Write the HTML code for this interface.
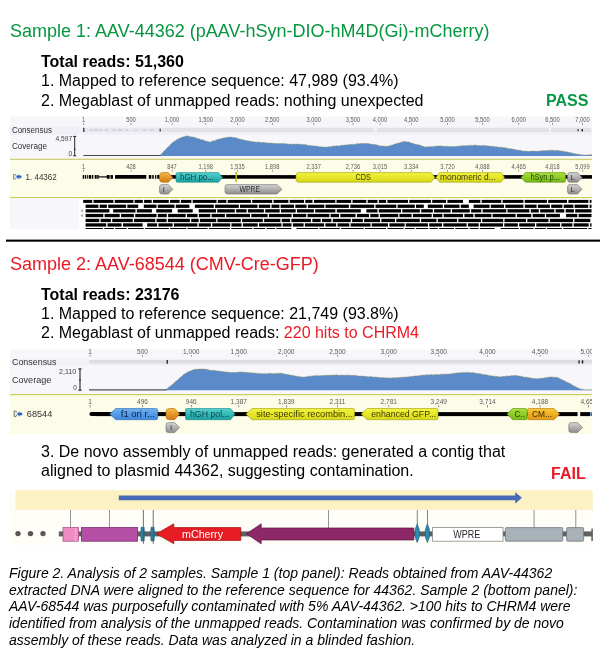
<!DOCTYPE html>
<html><head><meta charset="utf-8"><title>Figure 2</title>
<style>
html,body{margin:0;padding:0;background:#fff;}
body{width:612px;height:666px;position:relative;overflow:hidden;font-family:"Liberation Sans",sans-serif;color:#000;}
.t{position:absolute;white-space:nowrap;line-height:1;will-change:transform;}
.h1{font-size:18px;left:9.5px;}
.b{font-size:16px;left:41px;}
.cap{font-size:14px;font-style:italic;left:9.3px;}
svg{position:absolute;left:0;top:0;will-change:transform;}
svg text{font-family:"Liberation Sans",sans-serif;}
</style></head><body>

<div class="t h1" style="top:22.2px;color:#06963f;">Sample 1: AAV-44362 (pAAV-hSyn-DIO-hM4D(Gi)-mCherry)</div>
<div class="t b" style="top:54px;font-weight:bold;">Total reads: 51,360</div>
<div class="t b" style="top:73.4px;">1. Mapped to reference sequence: 47,989 (93.4%)</div>
<div class="t b" style="top:92.6px;">2. Megablast of unmapped reads: nothing unexpected</div>
<div class="t b" style="top:92.6px;left:546px;font-weight:bold;color:#0a9648;">PASS</div>
<div class="t h1" style="top:255px;color:#ea1a24;">Sample 2: AAV-68544 (CMV-Cre-GFP)</div>
<div class="t b" style="top:287px;font-weight:bold;">Total reads: 23176</div>
<div class="t b" style="top:305.6px;">1. Mapped to reference sequence: 21,749 (93.8%)</div>
<div class="t b" style="top:324.6px;">2. Megablast of unmapped reads: <span style="color:#ea1a24">220 hits to CHRM4</span></div>
<div class="t b" style="top:444px;">3. De novo assembly of unmapped reads: generated a contig that</div>
<div class="t b" style="top:463px;">aligned to plasmid 44362, suggesting contamination.</div>
<div class="t b" style="top:466px;left:551px;font-weight:bold;color:#ea1a24;">FAIL</div>
<div class="t cap" style="top:566.0px;">Figure 2. Analysis of 2 samples. Sample 1 (top panel): Reads obtained from AAV-44362</div>
<div class="t cap" style="top:582.7px;">extracted DNA were aligned to the reference sequence for 44362. Sample 2 (bottom panel):</div>
<div class="t cap" style="top:599.4px;">AAV-68544 was purposefully contaminated with 5% AAV-44362. &gt;100 hits to CHRM4 were</div>
<div class="t cap" style="top:616.1px;">identified from analysis of the unmapped reads. Contamination was confirmed by de novo</div>
<div class="t cap" style="top:632.8px;">assembly of these reads. Data was analyzed in a blinded fashion.</div>
<svg width="612" height="666" viewBox="0 0 612 666">
<defs>
<linearGradient id="gOr" x1="0" y1="0" x2="0" y2="1"><stop offset="0" stop-color="#f8b848"/><stop offset="1" stop-color="#d07810"/></linearGradient>
<linearGradient id="gTe" x1="0" y1="0" x2="0" y2="1"><stop offset="0" stop-color="#58d0d0"/><stop offset="1" stop-color="#18a0a0"/></linearGradient>
<linearGradient id="gYe" x1="0" y1="0" x2="0" y2="1"><stop offset="0" stop-color="#f4f440"/><stop offset="1" stop-color="#d8d818"/></linearGradient>
<linearGradient id="gGy" x1="0" y1="0" x2="0" y2="1"><stop offset="0" stop-color="#d4d4d4"/><stop offset="1" stop-color="#8c8c8c"/></linearGradient>
<linearGradient id="gGr" x1="0" y1="0" x2="0" y2="1"><stop offset="0" stop-color="#a8e038"/><stop offset="1" stop-color="#78b818"/></linearGradient>
<linearGradient id="gBl" x1="0" y1="0" x2="0" y2="1"><stop offset="0" stop-color="#70b0f0"/><stop offset="1" stop-color="#3c88d8"/></linearGradient>
<linearGradient id="gOy" x1="0" y1="0" x2="0" y2="1"><stop offset="0" stop-color="#f8c838"/><stop offset="1" stop-color="#e09810"/></linearGradient>
</defs>
<rect x="10" y="116.5" width="582" height="42" fill="#f6f6fb"/>
<rect x="10" y="126.5" width="582" height="8.5" fill="#f0f0f7"/>
<rect x="10" y="159.5" width="582" height="38" fill="#fdfce9"/>
<rect x="10" y="158.7" width="582" height="1.2" fill="#cbcd6c"/>
<rect x="10" y="197" width="582" height="1.2" fill="#c9cd62"/>
<rect x="10" y="198.2" width="69" height="30.5" fill="#f6f6fb"/>
<text x="83.5" y="122" font-size="6.5" fill="#5a5a5a" text-anchor="middle"  textLength="3.18" lengthAdjust="spacingAndGlyphs">1</text>
<rect x="83.2" y="123" width="0.7" height="1.8" fill="#666"/>
<text x="83.5" y="168.5" font-size="6.5" fill="#5a5a5a" text-anchor="middle"  textLength="3.18" lengthAdjust="spacingAndGlyphs">1</text>
<rect x="83.2" y="169.8" width="0.7" height="1.8" fill="#666"/>
<text x="131" y="122" font-size="6.5" fill="#5a5a5a" text-anchor="middle"  textLength="9.54" lengthAdjust="spacingAndGlyphs">500</text>
<rect x="130.7" y="123" width="0.7" height="1.8" fill="#666"/>
<text x="131" y="168.5" font-size="6.5" fill="#5a5a5a" text-anchor="middle"  textLength="9.54" lengthAdjust="spacingAndGlyphs">428</text>
<rect x="130.7" y="169.8" width="0.7" height="1.8" fill="#666"/>
<text x="172" y="122" font-size="6.5" fill="#5a5a5a" text-anchor="middle"  textLength="14.31" lengthAdjust="spacingAndGlyphs">1,000</text>
<rect x="171.7" y="123" width="0.7" height="1.8" fill="#666"/>
<text x="172" y="168.5" font-size="6.5" fill="#5a5a5a" text-anchor="middle"  textLength="9.54" lengthAdjust="spacingAndGlyphs">847</text>
<rect x="171.7" y="169.8" width="0.7" height="1.8" fill="#666"/>
<text x="205.75" y="122" font-size="6.5" fill="#5a5a5a" text-anchor="middle"  textLength="14.31" lengthAdjust="spacingAndGlyphs">1,500</text>
<rect x="205.45" y="123" width="0.7" height="1.8" fill="#666"/>
<text x="205.75" y="168.5" font-size="6.5" fill="#5a5a5a" text-anchor="middle"  textLength="14.31" lengthAdjust="spacingAndGlyphs">1,198</text>
<rect x="205.45" y="169.8" width="0.7" height="1.8" fill="#666"/>
<text x="237.5" y="122" font-size="6.5" fill="#5a5a5a" text-anchor="middle"  textLength="14.31" lengthAdjust="spacingAndGlyphs">2,000</text>
<rect x="237.2" y="123" width="0.7" height="1.8" fill="#666"/>
<text x="237.5" y="168.5" font-size="6.5" fill="#5a5a5a" text-anchor="middle"  textLength="14.31" lengthAdjust="spacingAndGlyphs">1,535</text>
<rect x="237.2" y="169.8" width="0.7" height="1.8" fill="#666"/>
<text x="272.25" y="122" font-size="6.5" fill="#5a5a5a" text-anchor="middle"  textLength="14.31" lengthAdjust="spacingAndGlyphs">2,500</text>
<rect x="271.95" y="123" width="0.7" height="1.8" fill="#666"/>
<text x="272.25" y="168.5" font-size="6.5" fill="#5a5a5a" text-anchor="middle"  textLength="14.31" lengthAdjust="spacingAndGlyphs">1,898</text>
<rect x="271.95" y="169.8" width="0.7" height="1.8" fill="#666"/>
<text x="313.75" y="122" font-size="6.5" fill="#5a5a5a" text-anchor="middle"  textLength="14.31" lengthAdjust="spacingAndGlyphs">3,000</text>
<rect x="313.45" y="123" width="0.7" height="1.8" fill="#666"/>
<text x="313.75" y="168.5" font-size="6.5" fill="#5a5a5a" text-anchor="middle"  textLength="14.31" lengthAdjust="spacingAndGlyphs">2,337</text>
<rect x="313.45" y="169.8" width="0.7" height="1.8" fill="#666"/>
<text x="353" y="122" font-size="6.5" fill="#5a5a5a" text-anchor="middle"  textLength="14.31" lengthAdjust="spacingAndGlyphs">3,500</text>
<rect x="352.7" y="123" width="0.7" height="1.8" fill="#666"/>
<text x="353" y="168.5" font-size="6.5" fill="#5a5a5a" text-anchor="middle"  textLength="14.31" lengthAdjust="spacingAndGlyphs">2,736</text>
<rect x="352.7" y="169.8" width="0.7" height="1.8" fill="#666"/>
<text x="380" y="122" font-size="6.5" fill="#5a5a5a" text-anchor="middle"  textLength="14.31" lengthAdjust="spacingAndGlyphs">4,000</text>
<rect x="379.7" y="123" width="0.7" height="1.8" fill="#666"/>
<text x="380" y="168.5" font-size="6.5" fill="#5a5a5a" text-anchor="middle"  textLength="14.31" lengthAdjust="spacingAndGlyphs">3,015</text>
<rect x="379.7" y="169.8" width="0.7" height="1.8" fill="#666"/>
<text x="411.25" y="122" font-size="6.5" fill="#5a5a5a" text-anchor="middle"  textLength="14.31" lengthAdjust="spacingAndGlyphs">4,500</text>
<rect x="410.95" y="123" width="0.7" height="1.8" fill="#666"/>
<text x="411.25" y="168.5" font-size="6.5" fill="#5a5a5a" text-anchor="middle"  textLength="14.31" lengthAdjust="spacingAndGlyphs">3,334</text>
<rect x="410.95" y="169.8" width="0.7" height="1.8" fill="#666"/>
<text x="447.5" y="122" font-size="6.5" fill="#5a5a5a" text-anchor="middle"  textLength="14.31" lengthAdjust="spacingAndGlyphs">5,000</text>
<rect x="447.2" y="123" width="0.7" height="1.8" fill="#666"/>
<text x="447.5" y="168.5" font-size="6.5" fill="#5a5a5a" text-anchor="middle"  textLength="14.31" lengthAdjust="spacingAndGlyphs">3,720</text>
<rect x="447.2" y="169.8" width="0.7" height="1.8" fill="#666"/>
<text x="482.5" y="122" font-size="6.5" fill="#5a5a5a" text-anchor="middle"  textLength="14.31" lengthAdjust="spacingAndGlyphs">5,500</text>
<rect x="482.2" y="123" width="0.7" height="1.8" fill="#666"/>
<text x="482.5" y="168.5" font-size="6.5" fill="#5a5a5a" text-anchor="middle"  textLength="14.31" lengthAdjust="spacingAndGlyphs">4,088</text>
<rect x="482.2" y="169.8" width="0.7" height="1.8" fill="#666"/>
<text x="518.75" y="122" font-size="6.5" fill="#5a5a5a" text-anchor="middle"  textLength="14.31" lengthAdjust="spacingAndGlyphs">6,000</text>
<rect x="518.45" y="123" width="0.7" height="1.8" fill="#666"/>
<text x="518.75" y="168.5" font-size="6.5" fill="#5a5a5a" text-anchor="middle"  textLength="14.31" lengthAdjust="spacingAndGlyphs">4,465</text>
<rect x="518.45" y="169.8" width="0.7" height="1.8" fill="#666"/>
<text x="552.5" y="122" font-size="6.5" fill="#5a5a5a" text-anchor="middle"  textLength="14.31" lengthAdjust="spacingAndGlyphs">6,500</text>
<rect x="552.2" y="123" width="0.7" height="1.8" fill="#666"/>
<text x="552.5" y="168.5" font-size="6.5" fill="#5a5a5a" text-anchor="middle"  textLength="14.31" lengthAdjust="spacingAndGlyphs">4,818</text>
<rect x="552.2" y="169.8" width="0.7" height="1.8" fill="#666"/>
<text x="582.5" y="122" font-size="6.5" fill="#5a5a5a" text-anchor="middle"  textLength="14.31" lengthAdjust="spacingAndGlyphs">7,000</text>
<rect x="582.2" y="123" width="0.7" height="1.8" fill="#666"/>
<text x="582.5" y="168.5" font-size="6.5" fill="#5a5a5a" text-anchor="middle"  textLength="14.31" lengthAdjust="spacingAndGlyphs">5,099</text>
<rect x="582.2" y="169.8" width="0.7" height="1.8" fill="#666"/>
<rect x="84" y="128" width="76" height="4" fill="#e6e6ee"/>
<rect x="162" y="128" width="212" height="4" fill="#e2e2e6" rx="1"/>
<rect x="377" y="128" width="172" height="4" fill="#e2e2e6" rx="1"/>
<rect x="551" y="128" width="40" height="4" fill="#e2e2e6" rx="1"/>
<rect x="83.2" y="127.8" width="1.2" height="4.2" fill="#222"/>
<rect x="159.6" y="128.6" width="1.2" height="3" fill="#333"/>
<rect x="577.6" y="129" width="1" height="2.4" fill="#222"/><rect x="581.6" y="129" width="1.4" height="2.4" fill="#222"/>
<rect x="90" y="129" width="3" height="2" fill="#d4d4dc"/>
<rect x="94" y="129" width="4" height="2" fill="#d4d4dc"/>
<rect x="99" y="129" width="3" height="2" fill="#d4d4dc"/>
<rect x="105" y="129" width="3" height="2" fill="#d4d4dc"/>
<rect x="112" y="129" width="4" height="2" fill="#d4d4dc"/>
<rect x="118" y="129" width="4" height="2" fill="#d4d4dc"/>
<rect x="126" y="129" width="2" height="2" fill="#d4d4dc"/>
<rect x="135" y="129" width="2" height="2" fill="#d4d4dc"/>
<rect x="143" y="129" width="4" height="2" fill="#d4d4dc"/>
<rect x="150" y="129" width="3" height="2" fill="#d4d4dc"/>
<text x="11.9" y="133.3" font-size="8.3" fill="#333" text-anchor="start"  textLength="40" lengthAdjust="spacingAndGlyphs">Consensus</text>
<text x="11.9" y="148.7" font-size="8.3" fill="#333" text-anchor="start"  textLength="35.2" lengthAdjust="spacingAndGlyphs">Coverage</text>
<text x="72.2" y="140.5" font-size="6.7" fill="#444" text-anchor="end" >4,597</text>
<text x="72.3" y="155.7" font-size="6.7" fill="#444" text-anchor="end" >0</text>
<path d="M73.2,136.4 H76.2 M74.7,136.4 V155.8 M73.2,155.8 H76.2 M74,149.3 H75.4" stroke="#111" stroke-width="0.9" fill="none"/>
<path d="M83.5,156 L83.5,155.4 L84.5,155.4 L85.5,155.4 L86.5,155.4 L87.5,155.4 L88.5,155.4 L89.5,155.4 L90.5,155.4 L91.5,155.4 L92.5,155.4 L93.5,155.4 L94.5,155.4 L95.5,155.4 L96.5,155.4 L97.5,155.4 L98.5,155.4 L99.5,155.4 L100.5,155.4 L101.5,155.4 L102.5,155.4 L103.5,155.4 L104.5,155.4 L105.5,155.4 L106.5,155.4 L107.5,155.4 L108.5,155.4 L109.5,155.4 L110.5,155.4 L111.5,155.4 L112.5,155.4 L113.5,155.4 L114.5,155.4 L115.5,155.4 L116.5,155.4 L117.5,155.4 L118.5,155.4 L119.5,155.4 L120.5,155.4 L121.5,155.4 L122.5,155.4 L123.5,155.4 L124.5,155.4 L125.5,155.4 L126.5,155.4 L127.5,155.4 L128.5,155.4 L129.5,155.4 L130.5,155.4 L131.5,155.4 L132.5,155.4 L133.5,155.4 L134.5,155.4 L135.5,155.4 L136.5,155.4 L137.5,155.4 L138.5,155.4 L139.5,155.4 L140.5,155.4 L141.5,155.4 L142.5,155.4 L143.5,155.4 L144.5,155.4 L145.5,155.4 L146.5,155.4 L147.5,155.4 L148.5,155.4 L149.5,155.4 L150.5,155.4 L151.5,155.4 L152.5,155.4 L153.5,155.4 L154.5,155.4 L155.5,155.4 L156.5,155.4 L157.5,155.4 L158.5,155.4 L159.5,155.4 L160.5,154.7 L161.5,154.03 L162.5,152.71 L163.5,151.65 L164.5,150.38 L165.5,149.65 L166.5,148.6 L167.5,147.27 L168.5,146.74 L169.5,145.73 L170.5,144.58 L171.5,143.56 L172.5,142.49 L173.5,141.75 L174.5,141.33 L175.5,140.42 L176.5,139.86 L177.5,139.31 L178.5,138.63 L179.5,138.27 L180.5,137.78 L181.5,137.61 L182.5,137.07 L183.5,136.76 L184.5,136.4 L185.5,136.28 L186.5,135.98 L187.5,135.69 L188.5,136.28 L189.5,136.5 L190.5,136.66 L191.5,136.83 L192.5,136.88 L193.5,137.09 L194.5,137.37 L195.5,137.54 L196.5,138.18 L197.5,138.3 L198.5,138.82 L199.5,138.89 L200.5,139.48 L201.5,139.72 L202.5,139.6 L203.5,140.02 L204.5,140.69 L205.5,140.8 L206.5,141.38 L207.5,141.37 L208.5,141.44 L209.5,141.95 L210.5,141.99 L211.5,141.43 L212.5,141.04 L213.5,140.87 L214.5,140.87 L215.5,140.44 L216.5,139.8 L217.5,139.54 L218.5,139.15 L219.5,138.83 L220.5,138.9 L221.5,138.29 L222.5,138.23 L223.5,137.97 L224.5,137.65 L225.5,137.72 L226.5,137.25 L227.5,137.38 L228.5,137.0 L229.5,137.02 L230.5,136.89 L231.5,137.0 L232.5,137.42 L233.5,137.41 L234.5,137.34 L235.5,137.9 L236.5,137.84 L237.5,138.21 L238.5,138.73 L239.5,138.92 L240.5,138.95 L241.5,139.69 L242.5,139.57 L243.5,139.83 L244.5,140.32 L245.5,140.33 L246.5,140.55 L247.5,140.67 L248.5,140.86 L249.5,141.23 L250.5,141.18 L251.5,141.49 L252.5,141.5 L253.5,141.66 L254.5,142.04 L255.5,141.93 L256.5,142.07 L257.5,142.28 L258.5,142.01 L259.5,142.06 L260.5,142.5 L261.5,142.53 L262.5,142.31 L263.5,142.34 L264.5,142.69 L265.5,142.86 L266.5,142.57 L267.5,143.03 L268.5,143.07 L269.5,143.01 L270.5,143.0 L271.5,142.92 L272.5,142.97 L273.5,143.51 L274.5,143.23 L275.5,143.51 L276.5,143.31 L277.5,143.61 L278.5,143.52 L279.5,143.39 L280.5,143.35 L281.5,143.64 L282.5,143.33 L283.5,143.43 L284.5,143.62 L285.5,143.83 L286.5,143.83 L287.5,143.78 L288.5,144.21 L289.5,143.97 L290.5,143.99 L291.5,144.23 L292.5,144.35 L293.5,144.11 L294.5,144.11 L295.5,144.16 L296.5,144.21 L297.5,143.94 L298.5,144.01 L299.5,144.22 L300.5,144.31 L301.5,144.29 L302.5,144.45 L303.5,144.54 L304.5,144.46 L305.5,144.55 L306.5,144.68 L307.5,145.27 L308.5,145.3 L309.5,145.58 L310.5,145.25 L311.5,145.7 L312.5,145.74 L313.5,145.97 L314.5,145.86 L315.5,146.3 L316.5,145.94 L317.5,146.27 L318.5,146.47 L319.5,146.65 L320.5,146.67 L321.5,146.75 L322.5,146.9 L323.5,147.06 L324.5,146.88 L325.5,147.04 L326.5,147.05 L327.5,146.94 L328.5,146.61 L329.5,146.7 L330.5,146.63 L331.5,146.39 L332.5,146.31 L333.5,146.09 L334.5,146.09 L335.5,146.0 L336.5,145.64 L337.5,145.82 L338.5,145.9 L339.5,145.74 L340.5,145.56 L341.5,145.29 L342.5,145.37 L343.5,145.19 L344.5,145.02 L345.5,145.12 L346.5,144.64 L347.5,144.88 L348.5,144.41 L349.5,144.6 L350.5,144.45 L351.5,144.23 L352.5,144.38 L353.5,144.19 L354.5,144.16 L355.5,144.23 L356.5,143.81 L357.5,143.6 L358.5,143.66 L359.5,143.76 L360.5,143.44 L361.5,143.33 L362.5,143.62 L363.5,143.41 L364.5,143.21 L365.5,143.46 L366.5,143.29 L367.5,143.58 L368.5,143.47 L369.5,143.71 L370.5,144.02 L371.5,144.22 L372.5,144.34 L373.5,144.23 L374.5,144.47 L375.5,144.52 L376.5,144.64 L377.5,145.03 L378.5,145.42 L379.5,145.64 L380.5,145.78 L381.5,146.12 L382.5,145.94 L383.5,145.98 L384.5,146.23 L385.5,146.24 L386.5,146.31 L387.5,146.31 L388.5,146.11 L389.5,145.75 L390.5,145.36 L391.5,145.32 L392.5,145.09 L393.5,144.53 L394.5,144.04 L395.5,143.72 L396.5,143.84 L397.5,143.12 L398.5,143.15 L399.5,142.79 L400.5,142.35 L401.5,142.3 L402.5,141.68 L403.5,141.57 L404.5,141.56 L405.5,141.35 L406.5,141.93 L407.5,141.81 L408.5,141.93 L409.5,142.12 L410.5,142.71 L411.5,142.92 L412.5,143.31 L413.5,143.61 L414.5,143.95 L415.5,144.3 L416.5,144.43 L417.5,144.45 L418.5,144.85 L419.5,145.01 L420.5,145.26 L421.5,145.82 L422.5,146.27 L423.5,146.34 L424.5,146.72 L425.5,146.89 L426.5,146.99 L427.5,146.83 L428.5,146.81 L429.5,146.81 L430.5,146.55 L431.5,146.68 L432.5,146.66 L433.5,146.16 L434.5,146.5 L435.5,146.3 L436.5,145.92 L437.5,146.0 L438.5,145.99 L439.5,146.05 L440.5,145.77 L441.5,145.94 L442.5,146.16 L443.5,146.19 L444.5,146.34 L445.5,146.17 L446.5,146.33 L447.5,146.18 L448.5,146.51 L449.5,146.62 L450.5,146.54 L451.5,146.52 L452.5,146.21 L453.5,146.5 L454.5,146.48 L455.5,146.42 L456.5,146.14 L457.5,146.21 L458.5,145.91 L459.5,146.15 L460.5,146.07 L461.5,145.75 L462.5,145.57 L463.5,145.7 L464.5,145.71 L465.5,145.77 L466.5,145.59 L467.5,145.31 L468.5,145.65 L469.5,145.24 L470.5,145.56 L471.5,145.2 L472.5,145.23 L473.5,145.41 L474.5,145.04 L475.5,145.04 L476.5,145.27 L477.5,145.41 L478.5,145.51 L479.5,145.47 L480.5,145.64 L481.5,145.46 L482.5,145.72 L483.5,145.33 L484.5,145.44 L485.5,145.66 L486.5,145.62 L487.5,145.93 L488.5,145.97 L489.5,146.0 L490.5,146.24 L491.5,146.19 L492.5,146.16 L493.5,146.31 L494.5,146.66 L495.5,146.8 L496.5,146.57 L497.5,147.01 L498.5,147.18 L499.5,147.08 L500.5,147.22 L501.5,147.15 L502.5,147.43 L503.5,147.53 L504.5,147.69 L505.5,147.55 L506.5,148.2 L507.5,148.16 L508.5,148.28 L509.5,148.66 L510.5,148.72 L511.5,148.87 L512.5,149.15 L513.5,149.01 L514.5,149.43 L515.5,149.54 L516.5,149.98 L517.5,150.14 L518.5,149.98 L519.5,150.25 L520.5,150.25 L521.5,150.57 L522.5,150.93 L523.5,151.15 L524.5,151.1 L525.5,151.11 L526.5,151.05 L527.5,151.26 L528.5,151.41 L529.5,151.01 L530.5,151.34 L531.5,150.96 L532.5,151.05 L533.5,151.06 L534.5,151.29 L535.5,151.11 L536.5,151.13 L537.5,151.22 L538.5,150.89 L539.5,151.13 L540.5,150.75 L541.5,150.87 L542.5,150.66 L543.5,150.56 L544.5,150.65 L545.5,150.54 L546.5,150.45 L547.5,150.41 L548.5,150.41 L549.5,150.17 L550.5,150.14 L551.5,150.29 L552.5,150.29 L553.5,150.26 L554.5,150.46 L555.5,150.37 L556.5,150.53 L557.5,150.25 L558.5,150.6 L559.5,150.79 L560.5,150.99 L561.5,150.86 L562.5,151.01 L563.5,151.48 L564.5,151.28 L565.5,151.86 L566.5,152.02 L567.5,151.87 L568.5,152.14 L569.5,152.6 L570.5,152.59 L571.5,152.73 L572.5,153.32 L573.5,153.33 L574.5,153.73 L575.5,153.59 L576.5,153.89 L577.5,154.19 L578.5,154.02 L579.5,154.27 L580.5,154.64 L581.5,154.86 L582.5,154.98 L583.5,154.85 L584.5,154.95 L585.5,154.99 L586.5,154.96 L587.5,154.93 L588.5,154.9 L589.5,154.87 L590.5,154.84 L591.5,154.81 L592,154.8 L592,156 Z" fill="#5a8aca"/>
<path d="M83.5,155.4 L84.5,155.4 L85.5,155.4 L86.5,155.4 L87.5,155.4 L88.5,155.4 L89.5,155.4 L90.5,155.4 L91.5,155.4 L92.5,155.4 L93.5,155.4 L94.5,155.4 L95.5,155.4 L96.5,155.4 L97.5,155.4 L98.5,155.4 L99.5,155.4 L100.5,155.4 L101.5,155.4 L102.5,155.4 L103.5,155.4 L104.5,155.4 L105.5,155.4 L106.5,155.4 L107.5,155.4 L108.5,155.4 L109.5,155.4 L110.5,155.4 L111.5,155.4 L112.5,155.4 L113.5,155.4 L114.5,155.4 L115.5,155.4 L116.5,155.4 L117.5,155.4 L118.5,155.4 L119.5,155.4 L120.5,155.4 L121.5,155.4 L122.5,155.4 L123.5,155.4 L124.5,155.4 L125.5,155.4 L126.5,155.4 L127.5,155.4 L128.5,155.4 L129.5,155.4 L130.5,155.4 L131.5,155.4 L132.5,155.4 L133.5,155.4 L134.5,155.4 L135.5,155.4 L136.5,155.4 L137.5,155.4 L138.5,155.4 L139.5,155.4 L140.5,155.4 L141.5,155.4 L142.5,155.4 L143.5,155.4 L144.5,155.4 L145.5,155.4 L146.5,155.4 L147.5,155.4 L148.5,155.4 L149.5,155.4 L150.5,155.4 L151.5,155.4 L152.5,155.4 L153.5,155.4 L154.5,155.4 L155.5,155.4 L156.5,155.4 L157.5,155.4 L158.5,155.4 L159.5,155.4 L160.5,154.7 L161.5,154.03 L162.5,152.71 L163.5,151.65 L164.5,150.38 L165.5,149.65 L166.5,148.6 L167.5,147.27 L168.5,146.74 L169.5,145.73 L170.5,144.58 L171.5,143.56 L172.5,142.49 L173.5,141.75 L174.5,141.33 L175.5,140.42 L176.5,139.86 L177.5,139.31 L178.5,138.63 L179.5,138.27 L180.5,137.78 L181.5,137.61 L182.5,137.07 L183.5,136.76 L184.5,136.4 L185.5,136.28 L186.5,135.98 L187.5,135.69 L188.5,136.28 L189.5,136.5 L190.5,136.66 L191.5,136.83 L192.5,136.88 L193.5,137.09 L194.5,137.37 L195.5,137.54 L196.5,138.18 L197.5,138.3 L198.5,138.82 L199.5,138.89 L200.5,139.48 L201.5,139.72 L202.5,139.6 L203.5,140.02 L204.5,140.69 L205.5,140.8 L206.5,141.38 L207.5,141.37 L208.5,141.44 L209.5,141.95 L210.5,141.99 L211.5,141.43 L212.5,141.04 L213.5,140.87 L214.5,140.87 L215.5,140.44 L216.5,139.8 L217.5,139.54 L218.5,139.15 L219.5,138.83 L220.5,138.9 L221.5,138.29 L222.5,138.23 L223.5,137.97 L224.5,137.65 L225.5,137.72 L226.5,137.25 L227.5,137.38 L228.5,137.0 L229.5,137.02 L230.5,136.89 L231.5,137.0 L232.5,137.42 L233.5,137.41 L234.5,137.34 L235.5,137.9 L236.5,137.84 L237.5,138.21 L238.5,138.73 L239.5,138.92 L240.5,138.95 L241.5,139.69 L242.5,139.57 L243.5,139.83 L244.5,140.32 L245.5,140.33 L246.5,140.55 L247.5,140.67 L248.5,140.86 L249.5,141.23 L250.5,141.18 L251.5,141.49 L252.5,141.5 L253.5,141.66 L254.5,142.04 L255.5,141.93 L256.5,142.07 L257.5,142.28 L258.5,142.01 L259.5,142.06 L260.5,142.5 L261.5,142.53 L262.5,142.31 L263.5,142.34 L264.5,142.69 L265.5,142.86 L266.5,142.57 L267.5,143.03 L268.5,143.07 L269.5,143.01 L270.5,143.0 L271.5,142.92 L272.5,142.97 L273.5,143.51 L274.5,143.23 L275.5,143.51 L276.5,143.31 L277.5,143.61 L278.5,143.52 L279.5,143.39 L280.5,143.35 L281.5,143.64 L282.5,143.33 L283.5,143.43 L284.5,143.62 L285.5,143.83 L286.5,143.83 L287.5,143.78 L288.5,144.21 L289.5,143.97 L290.5,143.99 L291.5,144.23 L292.5,144.35 L293.5,144.11 L294.5,144.11 L295.5,144.16 L296.5,144.21 L297.5,143.94 L298.5,144.01 L299.5,144.22 L300.5,144.31 L301.5,144.29 L302.5,144.45 L303.5,144.54 L304.5,144.46 L305.5,144.55 L306.5,144.68 L307.5,145.27 L308.5,145.3 L309.5,145.58 L310.5,145.25 L311.5,145.7 L312.5,145.74 L313.5,145.97 L314.5,145.86 L315.5,146.3 L316.5,145.94 L317.5,146.27 L318.5,146.47 L319.5,146.65 L320.5,146.67 L321.5,146.75 L322.5,146.9 L323.5,147.06 L324.5,146.88 L325.5,147.04 L326.5,147.05 L327.5,146.94 L328.5,146.61 L329.5,146.7 L330.5,146.63 L331.5,146.39 L332.5,146.31 L333.5,146.09 L334.5,146.09 L335.5,146.0 L336.5,145.64 L337.5,145.82 L338.5,145.9 L339.5,145.74 L340.5,145.56 L341.5,145.29 L342.5,145.37 L343.5,145.19 L344.5,145.02 L345.5,145.12 L346.5,144.64 L347.5,144.88 L348.5,144.41 L349.5,144.6 L350.5,144.45 L351.5,144.23 L352.5,144.38 L353.5,144.19 L354.5,144.16 L355.5,144.23 L356.5,143.81 L357.5,143.6 L358.5,143.66 L359.5,143.76 L360.5,143.44 L361.5,143.33 L362.5,143.62 L363.5,143.41 L364.5,143.21 L365.5,143.46 L366.5,143.29 L367.5,143.58 L368.5,143.47 L369.5,143.71 L370.5,144.02 L371.5,144.22 L372.5,144.34 L373.5,144.23 L374.5,144.47 L375.5,144.52 L376.5,144.64 L377.5,145.03 L378.5,145.42 L379.5,145.64 L380.5,145.78 L381.5,146.12 L382.5,145.94 L383.5,145.98 L384.5,146.23 L385.5,146.24 L386.5,146.31 L387.5,146.31 L388.5,146.11 L389.5,145.75 L390.5,145.36 L391.5,145.32 L392.5,145.09 L393.5,144.53 L394.5,144.04 L395.5,143.72 L396.5,143.84 L397.5,143.12 L398.5,143.15 L399.5,142.79 L400.5,142.35 L401.5,142.3 L402.5,141.68 L403.5,141.57 L404.5,141.56 L405.5,141.35 L406.5,141.93 L407.5,141.81 L408.5,141.93 L409.5,142.12 L410.5,142.71 L411.5,142.92 L412.5,143.31 L413.5,143.61 L414.5,143.95 L415.5,144.3 L416.5,144.43 L417.5,144.45 L418.5,144.85 L419.5,145.01 L420.5,145.26 L421.5,145.82 L422.5,146.27 L423.5,146.34 L424.5,146.72 L425.5,146.89 L426.5,146.99 L427.5,146.83 L428.5,146.81 L429.5,146.81 L430.5,146.55 L431.5,146.68 L432.5,146.66 L433.5,146.16 L434.5,146.5 L435.5,146.3 L436.5,145.92 L437.5,146.0 L438.5,145.99 L439.5,146.05 L440.5,145.77 L441.5,145.94 L442.5,146.16 L443.5,146.19 L444.5,146.34 L445.5,146.17 L446.5,146.33 L447.5,146.18 L448.5,146.51 L449.5,146.62 L450.5,146.54 L451.5,146.52 L452.5,146.21 L453.5,146.5 L454.5,146.48 L455.5,146.42 L456.5,146.14 L457.5,146.21 L458.5,145.91 L459.5,146.15 L460.5,146.07 L461.5,145.75 L462.5,145.57 L463.5,145.7 L464.5,145.71 L465.5,145.77 L466.5,145.59 L467.5,145.31 L468.5,145.65 L469.5,145.24 L470.5,145.56 L471.5,145.2 L472.5,145.23 L473.5,145.41 L474.5,145.04 L475.5,145.04 L476.5,145.27 L477.5,145.41 L478.5,145.51 L479.5,145.47 L480.5,145.64 L481.5,145.46 L482.5,145.72 L483.5,145.33 L484.5,145.44 L485.5,145.66 L486.5,145.62 L487.5,145.93 L488.5,145.97 L489.5,146.0 L490.5,146.24 L491.5,146.19 L492.5,146.16 L493.5,146.31 L494.5,146.66 L495.5,146.8 L496.5,146.57 L497.5,147.01 L498.5,147.18 L499.5,147.08 L500.5,147.22 L501.5,147.15 L502.5,147.43 L503.5,147.53 L504.5,147.69 L505.5,147.55 L506.5,148.2 L507.5,148.16 L508.5,148.28 L509.5,148.66 L510.5,148.72 L511.5,148.87 L512.5,149.15 L513.5,149.01 L514.5,149.43 L515.5,149.54 L516.5,149.98 L517.5,150.14 L518.5,149.98 L519.5,150.25 L520.5,150.25 L521.5,150.57 L522.5,150.93 L523.5,151.15 L524.5,151.1 L525.5,151.11 L526.5,151.05 L527.5,151.26 L528.5,151.41 L529.5,151.01 L530.5,151.34 L531.5,150.96 L532.5,151.05 L533.5,151.06 L534.5,151.29 L535.5,151.11 L536.5,151.13 L537.5,151.22 L538.5,150.89 L539.5,151.13 L540.5,150.75 L541.5,150.87 L542.5,150.66 L543.5,150.56 L544.5,150.65 L545.5,150.54 L546.5,150.45 L547.5,150.41 L548.5,150.41 L549.5,150.17 L550.5,150.14 L551.5,150.29 L552.5,150.29 L553.5,150.26 L554.5,150.46 L555.5,150.37 L556.5,150.53 L557.5,150.25 L558.5,150.6 L559.5,150.79 L560.5,150.99 L561.5,150.86 L562.5,151.01 L563.5,151.48 L564.5,151.28 L565.5,151.86 L566.5,152.02 L567.5,151.87 L568.5,152.14 L569.5,152.6 L570.5,152.59 L571.5,152.73 L572.5,153.32 L573.5,153.33 L574.5,153.73 L575.5,153.59 L576.5,153.89 L577.5,154.19 L578.5,154.02 L579.5,154.27 L580.5,154.64 L581.5,154.86 L582.5,154.98 L583.5,154.85 L584.5,154.95 L585.5,154.99 L586.5,154.96 L587.5,154.93 L588.5,154.9 L589.5,154.87 L590.5,154.84 L591.5,154.81 L592,154.8" fill="none" stroke="#a89a48" stroke-width="0.5" opacity="0.8"/>
<rect x="83.5" y="155.2" width="77" height="0.8" fill="#333"/>
<rect x="160" y="175.1" width="432" height="3.6" fill="#000"/>
<rect x="82.7" y="175.1" width="1.6" height="3.6" fill="#000" rx="0.5"/>
<rect x="85" y="175.1" width="1.3" height="3.6" fill="#000" rx="0.5"/>
<rect x="87.2" y="175.1" width="1.1" height="3.6" fill="#000" rx="0.5"/>
<rect x="89" y="175.1" width="2" height="3.6" fill="#000" rx="0.5"/>
<rect x="91.7" y="175.1" width="1.6" height="3.6" fill="#000" rx="0.5"/>
<rect x="94.7" y="175.1" width="2" height="3.6" fill="#000" rx="0.5"/>
<rect x="97.2" y="175.1" width="1.6" height="3.6" fill="#000" rx="0.5"/>
<rect x="106.7" y="175.1" width="3" height="3.6" fill="#000" rx="0.5"/>
<rect x="110.5" y="175.1" width="2.5" height="3.6" fill="#000" rx="0.5"/>
<rect x="115" y="175.1" width="31.3" height="3.6" fill="#000" rx="0.5"/>
<rect x="148.8" y="175.1" width="2.5" height="3.6" fill="#000" rx="0.5"/>
<rect x="152.2" y="175.1" width="1.6" height="3.6" fill="#000" rx="0.5"/>
<rect x="155" y="175.1" width="1.3" height="3.6" fill="#000" rx="0.5"/>
<rect x="157.2" y="175.1" width="2.6" height="3.6" fill="#000" rx="0.5"/>
<rect x="99" y="176.3" width="7.8" height="1.2" fill="#000"/>
<path d="M162.5,172.6 L168.3,172.6 L172.8,177.39999999999998 L168.3,182.2 L162.5,182.2 Q159.5,182.2 159.5,179.2 L159.5,175.6 Q159.5,172.6 162.5,172.6 Z" fill="url(#gOr)" stroke="#b06808" stroke-width="0.6" stroke-linejoin="round"/>
<path d="M177.5,172.6 L218.5,172.6 L222.5,177.39999999999998 L218.5,182.2 L177.5,182.2 Q176,182.2 176,180.7 L176,174.1 Q176,172.6 177.5,172.6 Z" fill="url(#gTe)" stroke="#108888" stroke-width="0.6" stroke-linejoin="round"/>
<text x="196.9" y="180.3" font-size="8.2" fill="#0a4848" text-anchor="middle"  textLength="33.8" lengthAdjust="spacingAndGlyphs">hGH po...</text>
<rect x="235.6" y="172.2" width="1.3" height="9.6" fill="#d8d820" stroke="#909010" stroke-width="0.3"/>
<path d="M299,172.6 L431,172.6 L435,177.39999999999998 L431,182.2 L299,182.2 Q296,182.2 296,179.2 L296,175.6 Q296,172.6 299,172.6 Z" fill="url(#gYe)" stroke="#a0a010" stroke-width="0.6" stroke-linejoin="round"/>
<text x="363.1" y="180.4" font-size="8.2" fill="#3a3a00" text-anchor="middle"  textLength="15.3" lengthAdjust="spacingAndGlyphs">CDS</text>
<path d="M439.5,172.6 L501.0,172.6 L504.5,177.39999999999998 L501.0,182.2 L439.5,182.2 L436,177.39999999999998 Z" fill="url(#gYe)" stroke="#a0a010" stroke-width="0.6" stroke-linejoin="round"/>
<text x="467.9" y="180.3" font-size="8.2" fill="#3a3a00" text-anchor="middle"  textLength="55.8" lengthAdjust="spacingAndGlyphs">monomeric d...</text>
<path d="M564.0,172.6 L525.5,172.6 L521,177.39999999999998 L525.5,182.2 L564.0,182.2 Q565.5,182.2 565.5,180.7 L565.5,174.1 Q565.5,172.6 564.0,172.6 Z" fill="url(#gGr)" stroke="#5c9010" stroke-width="0.6" stroke-linejoin="round"/>
<text x="545.2" y="180.3" font-size="8.2" fill="#1c4800" text-anchor="middle"  textLength="29.5" lengthAdjust="spacingAndGlyphs">hSyn p...</text>
<path d="M570.0,172.6 L577.5,172.6 L582,177.39999999999998 L577.5,182.2 L570.0,182.2 Q567.5,182.2 567.5,179.7 L567.5,175.1 Q567.5,172.6 570.0,172.6 Z" fill="url(#gGy)" stroke="#707070" stroke-width="0.6" stroke-linejoin="round"/>
<text x="572.6" y="180.2" font-size="7.6" fill="#333" text-anchor="middle" >L</text>
<path d="M570.0,184.6 L577.5,184.6 L582,189.3 L577.5,194 L570.0,194 Q567.5,194 567.5,191.5 L567.5,187.1 Q567.5,184.6 570.0,184.6 Z" fill="url(#gGy)" stroke="#707070" stroke-width="0.6" stroke-linejoin="round"/>
<text x="572.6" y="192.1" font-size="7.6" fill="#333" text-anchor="middle" >L</text>
<path d="M162.0,184.6 L168.3,184.6 L172.8,189.3 L168.3,194 L162.0,194 Q159.5,194 159.5,191.5 L159.5,187.1 Q159.5,184.6 162.0,184.6 Z" fill="url(#gGy)" stroke="#707070" stroke-width="0.6" stroke-linejoin="round"/>
<text x="163.9" y="192" font-size="7.6" fill="#333" text-anchor="middle" >I</text>
<path d="M227.5,184.6 L277,184.6 L282,189.3 L277,194 L227.5,194 Q225,194 225,191.5 L225,187.1 Q225,184.6 227.5,184.6 Z" fill="url(#gGy)" stroke="#707070" stroke-width="0.6" stroke-linejoin="round"/>
<text x="249.8" y="192.3" font-size="8.2" fill="#333" text-anchor="middle"  textLength="20.6" lengthAdjust="spacingAndGlyphs">WPRE</text>
<path d="M16.2,175.8 Q16.2,174.5 14.9,174.5 H13.5 V179.1 H14.9 Q16.2,179.1 16.2,177.8" fill="#e4e4e4" stroke="#777" stroke-width="0.8"/>
<path d="M16.2,176.8 L18.7,174.8 V175.8 H21.2 V177.8 H18.7 V178.8 Z" fill="#2c66d0" stroke="#2c66d0" stroke-width="0.5" stroke-linejoin="round"/>
<text x="25.6" y="180" font-size="8.2" fill="#333" text-anchor="start"  textLength="31.1" lengthAdjust="spacingAndGlyphs">1. 44362</text>
<rect x="83.2" y="199.9" width="9.0" height="3.0" fill="#000"/>
<rect x="93.5" y="199.9" width="19.9" height="3.0" fill="#000"/>
<rect x="114.7" y="199.9" width="18.7" height="3.0" fill="#000"/>
<rect x="134.6" y="199.9" width="8.2" height="3.0" fill="#000"/>
<rect x="144.1" y="199.9" width="7.6" height="3.0" fill="#000"/>
<rect x="153.0" y="199.9" width="15.8" height="3.0" fill="#000"/>
<rect x="170.1" y="199.9" width="9.5" height="3.0" fill="#000"/>
<rect x="180.9" y="199.9" width="10.5" height="3.0" fill="#000"/>
<rect x="192.7" y="199.9" width="23.8" height="3.0" fill="#000"/>
<rect x="217.8" y="199.9" width="8.6" height="3.0" fill="#000"/>
<rect x="227.7" y="199.9" width="23.2" height="3.0" fill="#000"/>
<rect x="252.2" y="199.9" width="20.0" height="3.0" fill="#000"/>
<rect x="273.5" y="199.9" width="14.9" height="3.0" fill="#000"/>
<rect x="289.7" y="199.9" width="14.3" height="3.0" fill="#000"/>
<rect x="305.3" y="199.9" width="7.2" height="3.0" fill="#000"/>
<rect x="313.9" y="199.9" width="21.4" height="3.0" fill="#000"/>
<rect x="336.5" y="199.9" width="14.7" height="3.0" fill="#000"/>
<rect x="352.5" y="199.9" width="13.9" height="3.0" fill="#000"/>
<rect x="367.7" y="199.9" width="9.8" height="3.0" fill="#000"/>
<rect x="378.8" y="199.9" width="7.3" height="3.0" fill="#000"/>
<rect x="387.4" y="199.9" width="20.6" height="3.0" fill="#000"/>
<rect x="409.3" y="199.9" width="21.6" height="3.0" fill="#000"/>
<rect x="432.2" y="199.9" width="13.9" height="3.0" fill="#000"/>
<rect x="447.4" y="199.9" width="15.6" height="3.0" fill="#000"/>
<rect x="468.9" y="199.9" width="11.4" height="3.0" fill="#000"/>
<rect x="481.6" y="199.9" width="19.7" height="3.0" fill="#000"/>
<rect x="502.6" y="199.9" width="20.8" height="3.0" fill="#000"/>
<rect x="524.7" y="199.9" width="22.2" height="3.0" fill="#000"/>
<rect x="548.2" y="199.9" width="18.8" height="3.0" fill="#000"/>
<rect x="568.4" y="199.9" width="20.0" height="3.0" fill="#000"/>
<rect x="589.7" y="199.9" width="1.8" height="3.0" fill="#000"/>
<rect x="85.6" y="204.6" width="12.8" height="3.3" fill="#000"/>
<rect x="99.7" y="204.6" width="7.2" height="3.3" fill="#000"/>
<rect x="108.2" y="204.6" width="17.9" height="3.3" fill="#000"/>
<rect x="127.3" y="204.6" width="10.9" height="3.3" fill="#000"/>
<rect x="143.8" y="204.6" width="12.7" height="3.3" fill="#000"/>
<rect x="157.8" y="204.6" width="16.7" height="3.3" fill="#000"/>
<rect x="175.8" y="204.6" width="13.6" height="3.3" fill="#000"/>
<rect x="194.9" y="204.6" width="18.9" height="3.3" fill="#000"/>
<rect x="215.1" y="204.6" width="23.7" height="3.3" fill="#000"/>
<rect x="240.0" y="204.6" width="17.5" height="3.3" fill="#000"/>
<rect x="258.8" y="204.6" width="11.4" height="3.3" fill="#000"/>
<rect x="271.5" y="204.6" width="7.9" height="3.3" fill="#000"/>
<rect x="280.6" y="204.6" width="13.4" height="3.3" fill="#000"/>
<rect x="295.3" y="204.6" width="11.3" height="3.3" fill="#000"/>
<rect x="307.9" y="204.6" width="16.4" height="3.3" fill="#000"/>
<rect x="325.5" y="204.6" width="23.4" height="3.3" fill="#000"/>
<rect x="350.3" y="204.6" width="23.9" height="3.3" fill="#000"/>
<rect x="375.5" y="204.6" width="20.8" height="3.3" fill="#000"/>
<rect x="397.6" y="204.6" width="17.2" height="3.3" fill="#000"/>
<rect x="416.0" y="204.6" width="7.8" height="3.3" fill="#000"/>
<rect x="427.8" y="204.6" width="15.0" height="3.3" fill="#000"/>
<rect x="444.1" y="204.6" width="15.4" height="3.3" fill="#000"/>
<rect x="460.8" y="204.6" width="8.0" height="3.3" fill="#000"/>
<rect x="473.6" y="204.6" width="16.0" height="3.3" fill="#000"/>
<rect x="490.8" y="204.6" width="13.2" height="3.3" fill="#000"/>
<rect x="505.3" y="204.6" width="18.1" height="3.3" fill="#000"/>
<rect x="524.8" y="204.6" width="11.8" height="3.3" fill="#000"/>
<rect x="537.9" y="204.6" width="12.0" height="3.3" fill="#000"/>
<rect x="551.2" y="204.6" width="11.2" height="3.3" fill="#000"/>
<rect x="563.7" y="204.6" width="9.7" height="3.3" fill="#000"/>
<rect x="574.6" y="204.6" width="13.6" height="3.3" fill="#000"/>
<rect x="589.6" y="204.6" width="1.9" height="3.3" fill="#000"/>
<rect x="85.6" y="209.2" width="23.8" height="3.3" fill="#000"/>
<rect x="113.1" y="209.2" width="22.4" height="3.3" fill="#000"/>
<rect x="136.8" y="209.2" width="15.1" height="3.3" fill="#000"/>
<rect x="156.2" y="209.2" width="15.9" height="3.3" fill="#000"/>
<rect x="177.7" y="209.2" width="15.0" height="3.3" fill="#000"/>
<rect x="198.7" y="209.2" width="17.3" height="3.3" fill="#000"/>
<rect x="217.2" y="209.2" width="17.6" height="3.3" fill="#000"/>
<rect x="236.1" y="209.2" width="10.5" height="3.3" fill="#000"/>
<rect x="247.9" y="209.2" width="16.0" height="3.3" fill="#000"/>
<rect x="265.2" y="209.2" width="14.5" height="3.3" fill="#000"/>
<rect x="281.0" y="209.2" width="14.7" height="3.3" fill="#000"/>
<rect x="297.0" y="209.2" width="16.9" height="3.3" fill="#000"/>
<rect x="315.2" y="209.2" width="20.2" height="3.3" fill="#000"/>
<rect x="336.8" y="209.2" width="24.0" height="3.3" fill="#000"/>
<rect x="366.4" y="209.2" width="11.1" height="3.3" fill="#000"/>
<rect x="378.8" y="209.2" width="22.2" height="3.3" fill="#000"/>
<rect x="402.3" y="209.2" width="17.6" height="3.3" fill="#000"/>
<rect x="421.2" y="209.2" width="11.6" height="3.3" fill="#000"/>
<rect x="434.1" y="209.2" width="16.6" height="3.3" fill="#000"/>
<rect x="452.0" y="209.2" width="17.8" height="3.3" fill="#000"/>
<rect x="471.1" y="209.2" width="10.2" height="3.3" fill="#000"/>
<rect x="482.6" y="209.2" width="23.7" height="3.3" fill="#000"/>
<rect x="507.5" y="209.2" width="21.9" height="3.3" fill="#000"/>
<rect x="530.8" y="209.2" width="8.0" height="3.3" fill="#000"/>
<rect x="540.1" y="209.2" width="14.2" height="3.3" fill="#000"/>
<rect x="555.6" y="209.2" width="8.7" height="3.3" fill="#000"/>
<rect x="565.7" y="209.2" width="8.2" height="3.3" fill="#000"/>
<rect x="575.2" y="209.2" width="16.3" height="3.3" fill="#000"/>
<rect x="85.6" y="213.9" width="17.7" height="3.3" fill="#000"/>
<rect x="104.6" y="213.9" width="15.1" height="3.3" fill="#000"/>
<rect x="121.1" y="213.9" width="12.8" height="3.3" fill="#000"/>
<rect x="135.2" y="213.9" width="21.3" height="3.3" fill="#000"/>
<rect x="157.8" y="213.9" width="9.0" height="3.3" fill="#000"/>
<rect x="168.1" y="213.9" width="17.6" height="3.3" fill="#000"/>
<rect x="187.0" y="213.9" width="10.6" height="3.3" fill="#000"/>
<rect x="198.9" y="213.9" width="11.4" height="3.3" fill="#000"/>
<rect x="211.6" y="213.9" width="13.3" height="3.3" fill="#000"/>
<rect x="226.2" y="213.9" width="23.8" height="3.3" fill="#000"/>
<rect x="251.3" y="213.9" width="16.3" height="3.3" fill="#000"/>
<rect x="268.9" y="213.9" width="22.7" height="3.3" fill="#000"/>
<rect x="292.9" y="213.9" width="13.3" height="3.3" fill="#000"/>
<rect x="307.5" y="213.9" width="21.9" height="3.3" fill="#000"/>
<rect x="330.6" y="213.9" width="8.4" height="3.3" fill="#000"/>
<rect x="340.3" y="213.9" width="15.2" height="3.3" fill="#000"/>
<rect x="356.9" y="213.9" width="12.1" height="3.3" fill="#000"/>
<rect x="370.3" y="213.9" width="8.3" height="3.3" fill="#000"/>
<rect x="379.9" y="213.9" width="18.3" height="3.3" fill="#000"/>
<rect x="399.4" y="213.9" width="12.2" height="3.3" fill="#000"/>
<rect x="412.9" y="213.9" width="18.8" height="3.3" fill="#000"/>
<rect x="433.0" y="213.9" width="9.4" height="3.3" fill="#000"/>
<rect x="443.7" y="213.9" width="19.3" height="3.3" fill="#000"/>
<rect x="464.4" y="213.9" width="9.0" height="3.3" fill="#000"/>
<rect x="474.7" y="213.9" width="16.7" height="3.3" fill="#000"/>
<rect x="492.6" y="213.9" width="23.0" height="3.3" fill="#000"/>
<rect x="516.9" y="213.9" width="14.4" height="3.3" fill="#000"/>
<rect x="532.7" y="213.9" width="12.2" height="3.3" fill="#000"/>
<rect x="546.1" y="213.9" width="13.8" height="3.3" fill="#000"/>
<rect x="566.1" y="213.9" width="11.2" height="3.3" fill="#000"/>
<rect x="578.6" y="213.9" width="12.9" height="3.3" fill="#000"/>
<rect x="85.6" y="218.8" width="13.7" height="3.3" fill="#000"/>
<rect x="100.6" y="218.8" width="10.3" height="3.3" fill="#000"/>
<rect x="112.2" y="218.8" width="20.6" height="3.3" fill="#000"/>
<rect x="134.1" y="218.8" width="21.2" height="3.3" fill="#000"/>
<rect x="156.6" y="218.8" width="10.0" height="3.3" fill="#000"/>
<rect x="167.9" y="218.8" width="22.0" height="3.3" fill="#000"/>
<rect x="191.2" y="218.8" width="7.4" height="3.3" fill="#000"/>
<rect x="199.9" y="218.8" width="16.3" height="3.3" fill="#000"/>
<rect x="217.4" y="218.8" width="23.4" height="3.3" fill="#000"/>
<rect x="242.1" y="218.8" width="20.7" height="3.3" fill="#000"/>
<rect x="264.1" y="218.8" width="16.3" height="3.3" fill="#000"/>
<rect x="281.7" y="218.8" width="8.4" height="3.3" fill="#000"/>
<rect x="291.4" y="218.8" width="19.5" height="3.3" fill="#000"/>
<rect x="312.3" y="218.8" width="8.4" height="3.3" fill="#000"/>
<rect x="322.0" y="218.8" width="9.4" height="3.3" fill="#000"/>
<rect x="332.8" y="218.8" width="18.0" height="3.3" fill="#000"/>
<rect x="352.1" y="218.8" width="10.7" height="3.3" fill="#000"/>
<rect x="364.1" y="218.8" width="15.9" height="3.3" fill="#000"/>
<rect x="381.3" y="218.8" width="13.7" height="3.3" fill="#000"/>
<rect x="396.3" y="218.8" width="23.5" height="3.3" fill="#000"/>
<rect x="421.1" y="218.8" width="15.4" height="3.3" fill="#000"/>
<rect x="437.8" y="218.8" width="19.3" height="3.3" fill="#000"/>
<rect x="458.3" y="218.8" width="22.6" height="3.3" fill="#000"/>
<rect x="482.2" y="218.8" width="21.0" height="3.3" fill="#000"/>
<rect x="504.5" y="218.8" width="21.5" height="3.3" fill="#000"/>
<rect x="527.3" y="218.8" width="21.2" height="3.3" fill="#000"/>
<rect x="549.8" y="218.8" width="23.3" height="3.3" fill="#000"/>
<rect x="574.4" y="218.8" width="15.9" height="3.3" fill="#000"/>
<rect x="85.6" y="223.3" width="20.6" height="3.3" fill="#000"/>
<rect x="107.5" y="223.3" width="14.1" height="3.3" fill="#000"/>
<rect x="123.0" y="223.3" width="19.6" height="3.3" fill="#000"/>
<rect x="147.2" y="223.3" width="9.9" height="3.3" fill="#000"/>
<rect x="158.4" y="223.3" width="14.2" height="3.3" fill="#000"/>
<rect x="173.9" y="223.3" width="23.5" height="3.3" fill="#000"/>
<rect x="198.7" y="223.3" width="12.2" height="3.3" fill="#000"/>
<rect x="212.2" y="223.3" width="18.0" height="3.3" fill="#000"/>
<rect x="231.5" y="223.3" width="10.1" height="3.3" fill="#000"/>
<rect x="242.9" y="223.3" width="14.8" height="3.3" fill="#000"/>
<rect x="259.0" y="223.3" width="22.5" height="3.3" fill="#000"/>
<rect x="282.7" y="223.3" width="8.8" height="3.3" fill="#000"/>
<rect x="292.9" y="223.3" width="10.7" height="3.3" fill="#000"/>
<rect x="304.9" y="223.3" width="19.2" height="3.3" fill="#000"/>
<rect x="325.4" y="223.3" width="10.8" height="3.3" fill="#000"/>
<rect x="337.5" y="223.3" width="11.8" height="3.3" fill="#000"/>
<rect x="350.6" y="223.3" width="19.9" height="3.3" fill="#000"/>
<rect x="371.7" y="223.3" width="16.3" height="3.3" fill="#000"/>
<rect x="389.4" y="223.3" width="15.2" height="3.3" fill="#000"/>
<rect x="405.8" y="223.3" width="22.1" height="3.3" fill="#000"/>
<rect x="429.2" y="223.3" width="12.8" height="3.3" fill="#000"/>
<rect x="443.3" y="223.3" width="23.3" height="3.3" fill="#000"/>
<rect x="467.9" y="223.3" width="10.8" height="3.3" fill="#000"/>
<rect x="479.9" y="223.3" width="23.1" height="3.3" fill="#000"/>
<rect x="504.3" y="223.3" width="13.5" height="3.3" fill="#000"/>
<rect x="519.2" y="223.3" width="15.8" height="3.3" fill="#000"/>
<rect x="536.3" y="223.3" width="23.8" height="3.3" fill="#000"/>
<rect x="561.4" y="223.3" width="11.0" height="3.3" fill="#000"/>
<rect x="573.7" y="223.3" width="15.0" height="3.3" fill="#000"/>
<rect x="590.1" y="223.3" width="1.4" height="3.3" fill="#000"/>
<rect x="85.6" y="228" width="17.3" height="1.0" fill="#000"/>
<rect x="104.2" y="228" width="9.7" height="1.0" fill="#000"/>
<rect x="115.2" y="228" width="11.4" height="1.0" fill="#000"/>
<rect x="127.9" y="228" width="15.8" height="1.0" fill="#000"/>
<rect x="145.0" y="228" width="23.9" height="1.0" fill="#000"/>
<rect x="170.1" y="228" width="16.1" height="1.0" fill="#000"/>
<rect x="187.5" y="228" width="20.1" height="1.0" fill="#000"/>
<rect x="208.9" y="228" width="21.0" height="1.0" fill="#000"/>
<rect x="231.2" y="228" width="21.0" height="1.0" fill="#000"/>
<rect x="253.5" y="228" width="11.6" height="1.0" fill="#000"/>
<rect x="266.4" y="228" width="8.7" height="1.0" fill="#000"/>
<rect x="276.3" y="228" width="15.0" height="1.0" fill="#000"/>
<rect x="296.5" y="228" width="21.6" height="1.0" fill="#000"/>
<rect x="319.4" y="228" width="20.4" height="1.0" fill="#000"/>
<rect x="341.1" y="228" width="22.6" height="1.0" fill="#000"/>
<rect x="365.0" y="228" width="21.0" height="1.0" fill="#000"/>
<rect x="387.4" y="228" width="16.2" height="1.0" fill="#000"/>
<rect x="404.9" y="228" width="9.7" height="1.0" fill="#000"/>
<rect x="415.9" y="228" width="12.3" height="1.0" fill="#000"/>
<rect x="429.5" y="228" width="8.3" height="1.0" fill="#000"/>
<rect x="439.1" y="228" width="14.9" height="1.0" fill="#000"/>
<rect x="455.3" y="228" width="13.1" height="1.0" fill="#000"/>
<rect x="469.7" y="228" width="8.8" height="1.0" fill="#000"/>
<rect x="479.8" y="228" width="14.8" height="1.0" fill="#000"/>
<rect x="500.7" y="228" width="18.1" height="1.0" fill="#000"/>
<rect x="520.1" y="228" width="13.4" height="1.0" fill="#000"/>
<rect x="534.8" y="228" width="11.0" height="1.0" fill="#000"/>
<rect x="547.1" y="228" width="14.8" height="1.0" fill="#000"/>
<rect x="563.2" y="228" width="23.9" height="1.0" fill="#000"/>
<rect x="588.4" y="228" width="3.1" height="1.0" fill="#000"/>
<path d="M80.6,210.8 L83,209.4 V212.20000000000002 Z" fill="#c8c8c8" stroke="#888" stroke-width="0.35"/>
<path d="M80.6,215.5 L83,214.1 V216.9 Z" fill="#c8c8c8" stroke="#888" stroke-width="0.35"/>
<rect x="6" y="239.6" width="594" height="2.1" fill="#000"/>
<rect x="10" y="349.5" width="582" height="45" fill="#f6f6fb"/>
<rect x="10" y="359" width="582" height="7" fill="#f1f1f8"/>
<rect x="10" y="395" width="582" height="39" fill="#fdfce9"/>
<rect x="10" y="394" width="582" height="1.2" fill="#c9cd62"/>
<clipPath id="c2"><rect x="10" y="340" width="582" height="100"/></clipPath><g clip-path="url(#c2)">
<text x="90" y="353.6" font-size="6.5" fill="#5a5a5a" text-anchor="middle" >1</text>
<text x="90" y="404" font-size="6.5" fill="#5a5a5a" text-anchor="middle" >1</text>
<rect x="89.7" y="355" width="0.7" height="1.6" fill="#666"/>
<rect x="89.7" y="405" width="0.7" height="2.4" fill="#666"/>
<text x="142.5" y="353.6" font-size="6.5" fill="#5a5a5a" text-anchor="middle" >500</text>
<text x="142.5" y="404" font-size="6.5" fill="#5a5a5a" text-anchor="middle" >496</text>
<rect x="142.2" y="355" width="0.7" height="1.6" fill="#666"/>
<rect x="142.2" y="405" width="0.7" height="2.4" fill="#666"/>
<text x="191.25" y="353.6" font-size="6.5" fill="#5a5a5a" text-anchor="middle" >1,000</text>
<text x="191.25" y="404" font-size="6.5" fill="#5a5a5a" text-anchor="middle" >946</text>
<rect x="190.95" y="355" width="0.7" height="1.6" fill="#666"/>
<rect x="190.95" y="405" width="0.7" height="2.4" fill="#666"/>
<text x="238.75" y="353.6" font-size="6.5" fill="#5a5a5a" text-anchor="middle" >1,500</text>
<text x="238.75" y="404" font-size="6.5" fill="#5a5a5a" text-anchor="middle" >1,387</text>
<rect x="238.45" y="355" width="0.7" height="1.6" fill="#666"/>
<rect x="238.45" y="405" width="0.7" height="2.4" fill="#666"/>
<text x="286.25" y="353.6" font-size="6.5" fill="#5a5a5a" text-anchor="middle" >2,000</text>
<text x="286.25" y="404" font-size="6.5" fill="#5a5a5a" text-anchor="middle" >1,839</text>
<rect x="285.95" y="355" width="0.7" height="1.6" fill="#666"/>
<rect x="285.95" y="405" width="0.7" height="2.4" fill="#666"/>
<text x="337.5" y="353.6" font-size="6.5" fill="#5a5a5a" text-anchor="middle" >2,500</text>
<text x="337.5" y="404" font-size="6.5" fill="#5a5a5a" text-anchor="middle" >2,311</text>
<rect x="337.2" y="355" width="0.7" height="1.6" fill="#666"/>
<rect x="337.2" y="405" width="0.7" height="2.4" fill="#666"/>
<text x="388.75" y="353.6" font-size="6.5" fill="#5a5a5a" text-anchor="middle" >3,000</text>
<text x="388.75" y="404" font-size="6.5" fill="#5a5a5a" text-anchor="middle" >2,781</text>
<rect x="388.45" y="355" width="0.7" height="1.6" fill="#666"/>
<rect x="388.45" y="405" width="0.7" height="2.4" fill="#666"/>
<text x="438.75" y="353.6" font-size="6.5" fill="#5a5a5a" text-anchor="middle" >3,500</text>
<text x="438.75" y="404" font-size="6.5" fill="#5a5a5a" text-anchor="middle" >3,249</text>
<rect x="438.45" y="355" width="0.7" height="1.6" fill="#666"/>
<rect x="438.45" y="405" width="0.7" height="2.4" fill="#666"/>
<text x="487.5" y="353.6" font-size="6.5" fill="#5a5a5a" text-anchor="middle" >4,000</text>
<text x="487.5" y="404" font-size="6.5" fill="#5a5a5a" text-anchor="middle" >3,714</text>
<rect x="487.2" y="355" width="0.7" height="1.6" fill="#666"/>
<rect x="487.2" y="405" width="0.7" height="2.4" fill="#666"/>
<text x="540" y="353.6" font-size="6.5" fill="#5a5a5a" text-anchor="middle" >4,500</text>
<text x="540" y="404" font-size="6.5" fill="#5a5a5a" text-anchor="middle" >4,188</text>
<rect x="539.7" y="355" width="0.7" height="1.6" fill="#666"/>
<rect x="539.7" y="405" width="0.7" height="2.4" fill="#666"/>
<text x="580.5" y="353.6" font-size="6.5" fill="#5a5a5a" text-anchor="start" >5,00</text>
<text x="580.5" y="404" font-size="6.5" fill="#5a5a5a" text-anchor="start" >4,65</text>
<rect x="588.2" y="355" width="0.7" height="1.6" fill="#666"/>
<rect x="588.2" y="405" width="0.7" height="2.4" fill="#666"/>
</g>
<rect x="89" y="360" width="503" height="3.8" fill="#dedee2" rx="1.6"/>
<rect x="590" y="360" width="2" height="3.8" fill="#dedee2"/>
<rect x="166.6" y="360" width="1.3" height="3.8" fill="#222"/>
<rect x="578.4" y="360.3" width="1.3" height="3.2" fill="#222"/><rect x="581.8" y="360.3" width="1.5" height="3.2" fill="#222"/>
<text x="12" y="365.3" font-size="9" fill="#333" text-anchor="start"  textLength="44.5" lengthAdjust="spacingAndGlyphs">Consensus</text>
<text x="12" y="382.6" font-size="9" fill="#333" text-anchor="start"  textLength="39.3" lengthAdjust="spacingAndGlyphs">Coverage</text>
<text x="76.4" y="373.8" font-size="7.6" fill="#444" text-anchor="end"  textLength="17.5" lengthAdjust="spacingAndGlyphs">2,110</text>
<text x="76.8" y="390" font-size="7.6" fill="#444" text-anchor="end"  textLength="3.6" lengthAdjust="spacingAndGlyphs">0</text>
<path d="M78.4,368.9 H81.6 M80,368.9 V390.2 M78.4,390.2 H81.6 M79.2,380 H80.8" stroke="#111" stroke-width="1" fill="none"/>
<path d="M89,390.3 L89,389.7 L90.0,389.7 L91.0,389.7 L92.0,389.7 L93.0,389.7 L94.0,389.7 L95.0,389.7 L96.0,389.7 L97.0,389.7 L98.0,389.7 L99.0,389.7 L100.0,389.7 L101.0,389.7 L102.0,389.7 L103.0,389.7 L104.0,389.7 L105.0,389.7 L106.0,389.7 L107.0,389.7 L108.0,389.7 L109.0,389.7 L110.0,389.7 L111.0,389.7 L112.0,389.7 L113.0,389.7 L114.0,389.7 L115.0,389.7 L116.0,389.7 L117.0,389.7 L118.0,389.7 L119.0,389.7 L120.0,389.7 L121.0,389.7 L122.0,389.7 L123.0,389.7 L124.0,389.7 L125.0,389.7 L126.0,389.7 L127.0,389.7 L128.0,389.7 L129.0,389.7 L130.0,389.7 L131.0,389.7 L132.0,389.7 L133.0,389.7 L134.0,389.7 L135.0,389.7 L136.0,389.7 L137.0,389.7 L138.0,389.7 L139.0,389.7 L140.0,389.7 L141.0,389.7 L142.0,389.7 L143.0,389.7 L144.0,389.7 L145.0,389.7 L146.0,389.7 L147.0,389.7 L148.0,389.7 L149.0,389.7 L150.0,389.7 L151.0,389.7 L152.0,389.7 L153.0,389.7 L154.0,389.7 L155.0,389.7 L156.0,389.7 L157.0,389.7 L158.0,389.7 L159.0,389.7 L160.0,389.7 L161.0,389.7 L162.0,389.7 L163.0,389.7 L164.0,389.7 L165.0,389.7 L166.0,389.7 L167.0,388.7 L168.0,387.84 L169.0,387.02 L170.0,386.18 L171.0,385.49 L172.0,384.8 L173.0,384.11 L174.0,382.96 L175.0,381.99 L176.0,381.32 L177.0,380.19 L178.0,379.57 L179.0,378.46 L180.0,377.61 L181.0,376.67 L182.0,376.16 L183.0,375.05 L184.0,374.32 L185.0,373.58 L186.0,373.16 L187.0,372.46 L188.0,371.64 L189.0,371.35 L190.0,371.17 L191.0,370.65 L192.0,370.12 L193.0,369.91 L194.0,369.6 L195.0,369.31 L196.0,369.33 L197.0,369.04 L198.0,369.34 L199.0,368.96 L200.0,368.95 L201.0,368.96 L202.0,368.96 L203.0,369.03 L204.0,368.96 L205.0,369.07 L206.0,369.26 L207.0,369.23 L208.0,369.6 L209.0,369.92 L210.0,370.24 L211.0,370.26 L212.0,370.32 L213.0,370.41 L214.0,370.24 L215.0,370.52 L216.0,370.64 L217.0,370.92 L218.0,370.76 L219.0,371.02 L220.0,371.2 L221.0,371.46 L222.0,371.6 L223.0,371.62 L224.0,371.51 L225.0,371.93 L226.0,372.12 L227.0,372.06 L228.0,372.09 L229.0,372.28 L230.0,372.22 L231.0,372.49 L232.0,372.61 L233.0,372.36 L234.0,372.44 L235.0,372.48 L236.0,372.15 L237.0,372.48 L238.0,372.27 L239.0,372.01 L240.0,371.91 L241.0,371.94 L242.0,372.06 L243.0,372.14 L244.0,372.05 L245.0,372.45 L246.0,372.25 L247.0,372.4 L248.0,372.32 L249.0,372.84 L250.0,372.48 L251.0,372.94 L252.0,372.82 L253.0,372.9 L254.0,372.96 L255.0,372.88 L256.0,373.3 L257.0,373.45 L258.0,373.46 L259.0,373.45 L260.0,373.31 L261.0,373.7 L262.0,373.47 L263.0,373.82 L264.0,373.53 L265.0,373.74 L266.0,373.84 L267.0,373.49 L268.0,373.64 L269.0,373.37 L270.0,373.32 L271.0,373.37 L272.0,373.74 L273.0,373.68 L274.0,373.5 L275.0,373.29 L276.0,373.44 L277.0,373.43 L278.0,373.22 L279.0,373.28 L280.0,373.35 L281.0,373.12 L282.0,373.38 L283.0,373.68 L284.0,373.69 L285.0,373.98 L286.0,374.23 L287.0,374.24 L288.0,374.61 L289.0,374.68 L290.0,375.03 L291.0,375.12 L292.0,375.47 L293.0,375.34 L294.0,375.8 L295.0,375.69 L296.0,376.24 L297.0,376.2 L298.0,376.28 L299.0,376.4 L300.0,376.64 L301.0,376.81 L302.0,376.99 L303.0,377.13 L304.0,376.87 L305.0,376.99 L306.0,376.79 L307.0,376.67 L308.0,376.32 L309.0,376.21 L310.0,376.15 L311.0,376.19 L312.0,375.88 L313.0,375.8 L314.0,375.72 L315.0,375.92 L316.0,375.6 L317.0,375.43 L318.0,375.74 L319.0,375.79 L320.0,375.68 L321.0,375.58 L322.0,375.62 L323.0,375.37 L324.0,375.48 L325.0,375.18 L326.0,375.18 L327.0,375.31 L328.0,375.31 L329.0,375.22 L330.0,375.02 L331.0,375.31 L332.0,375.19 L333.0,375.01 L334.0,375.02 L335.0,375.03 L336.0,374.92 L337.0,374.8 L338.0,375.21 L339.0,375.25 L340.0,375.1 L341.0,375.21 L342.0,375.0 L343.0,375.2 L344.0,374.91 L345.0,375.18 L346.0,375.1 L347.0,375.28 L348.0,374.88 L349.0,375.24 L350.0,374.91 L351.0,375.21 L352.0,375.5 L353.0,375.11 L354.0,375.32 L355.0,375.44 L356.0,375.54 L357.0,375.5 L358.0,376.0 L359.0,376.05 L360.0,375.93 L361.0,376.0 L362.0,376.2 L363.0,376.0 L364.0,376.06 L365.0,376.56 L366.0,376.33 L367.0,376.49 L368.0,376.77 L369.0,376.85 L370.0,376.67 L371.0,376.6 L372.0,376.71 L373.0,377.08 L374.0,377.13 L375.0,376.85 L376.0,377.25 L377.0,377.09 L378.0,377.23 L379.0,377.16 L380.0,377.59 L381.0,377.73 L382.0,377.41 L383.0,377.71 L384.0,377.57 L385.0,377.99 L386.0,377.66 L387.0,377.76 L388.0,378.09 L389.0,377.85 L390.0,378.1 L391.0,378.04 L392.0,377.93 L393.0,377.6 L394.0,377.84 L395.0,377.92 L396.0,377.63 L397.0,377.41 L398.0,377.44 L399.0,377.44 L400.0,377.61 L401.0,377.25 L402.0,377.15 L403.0,377.08 L404.0,377.2 L405.0,377.17 L406.0,376.86 L407.0,376.91 L408.0,376.92 L409.0,376.68 L410.0,376.4 L411.0,376.34 L412.0,376.56 L413.0,376.33 L414.0,376.03 L415.0,376.11 L416.0,375.73 L417.0,376.07 L418.0,375.7 L419.0,375.64 L420.0,375.54 L421.0,375.19 L422.0,375.36 L423.0,375.1 L424.0,374.98 L425.0,375.15 L426.0,374.75 L427.0,374.81 L428.0,375.01 L429.0,374.71 L430.0,374.69 L431.0,374.78 L432.0,374.56 L433.0,374.88 L434.0,374.88 L435.0,374.37 L436.0,374.54 L437.0,374.65 L438.0,374.41 L439.0,374.63 L440.0,374.36 L441.0,374.14 L442.0,374.28 L443.0,374.26 L444.0,374.07 L445.0,374.16 L446.0,374.17 L447.0,373.98 L448.0,373.91 L449.0,374.03 L450.0,373.89 L451.0,373.69 L452.0,373.79 L453.0,373.28 L454.0,373.46 L455.0,373.03 L456.0,373.13 L457.0,372.83 L458.0,372.81 L459.0,372.86 L460.0,372.74 L461.0,372.73 L462.0,372.43 L463.0,372.53 L464.0,372.38 L465.0,372.54 L466.0,372.48 L467.0,372.23 L468.0,372.49 L469.0,372.53 L470.0,372.44 L471.0,372.72 L472.0,372.5 L473.0,372.62 L474.0,372.68 L475.0,373.05 L476.0,373.15 L477.0,373.28 L478.0,373.32 L479.0,373.72 L480.0,373.49 L481.0,374.1 L482.0,374.13 L483.0,374.32 L484.0,374.65 L485.0,374.57 L486.0,374.72 L487.0,375.01 L488.0,375.07 L489.0,375.41 L490.0,375.76 L491.0,375.82 L492.0,375.8 L493.0,376.07 L494.0,375.93 L495.0,376.41 L496.0,376.2 L497.0,376.35 L498.0,376.41 L499.0,376.79 L500.0,376.97 L501.0,376.84 L502.0,376.38 L503.0,376.46 L504.0,376.33 L505.0,376.16 L506.0,376.44 L507.0,375.87 L508.0,375.99 L509.0,376.06 L510.0,376.1 L511.0,375.61 L512.0,375.69 L513.0,375.77 L514.0,375.34 L515.0,375.37 L516.0,375.84 L517.0,375.6 L518.0,375.87 L519.0,375.96 L520.0,376.16 L521.0,376.15 L522.0,376.29 L523.0,376.93 L524.0,376.97 L525.0,377.12 L526.0,377.03 L527.0,377.21 L528.0,377.53 L529.0,377.54 L530.0,377.81 L531.0,378.22 L532.0,378.06 L533.0,378.16 L534.0,378.61 L535.0,378.55 L536.0,378.39 L537.0,378.69 L538.0,378.8 L539.0,378.35 L540.0,378.34 L541.0,378.36 L542.0,378.29 L543.0,378.0 L544.0,377.99 L545.0,377.65 L546.0,377.48 L547.0,377.57 L548.0,377.21 L549.0,377.27 L550.0,376.86 L551.0,376.99 L552.0,376.98 L553.0,377.22 L554.0,377.1 L555.0,377.19 L556.0,377.26 L557.0,377.45 L558.0,377.62 L559.0,378.12 L560.0,378.82 L561.0,379.09 L562.0,379.73 L563.0,379.95 L564.0,380.59 L565.0,380.99 L566.0,381.8 L567.0,382.13 L568.0,382.59 L569.0,382.96 L570.0,383.56 L571.0,384.11 L572.0,384.69 L573.0,385.5 L574.0,385.96 L575.0,386.31 L576.0,386.93 L577.0,387.25 L578.0,388.07 L579.0,388.2 L580.0,388.83 L581.0,389.03 L582.0,389.14 L583.0,389.36 L584.0,389.58 L585.0,389.8 L586.0,389.8 L587.0,389.8 L588.0,389.8 L589.0,389.8 L590.0,389.8 L591.0,389.8 L592.0,389.8 L592,389.8 L592,390.3 Z" fill="#5a8aca"/>
<path d="M89,389.7 L90.0,389.7 L91.0,389.7 L92.0,389.7 L93.0,389.7 L94.0,389.7 L95.0,389.7 L96.0,389.7 L97.0,389.7 L98.0,389.7 L99.0,389.7 L100.0,389.7 L101.0,389.7 L102.0,389.7 L103.0,389.7 L104.0,389.7 L105.0,389.7 L106.0,389.7 L107.0,389.7 L108.0,389.7 L109.0,389.7 L110.0,389.7 L111.0,389.7 L112.0,389.7 L113.0,389.7 L114.0,389.7 L115.0,389.7 L116.0,389.7 L117.0,389.7 L118.0,389.7 L119.0,389.7 L120.0,389.7 L121.0,389.7 L122.0,389.7 L123.0,389.7 L124.0,389.7 L125.0,389.7 L126.0,389.7 L127.0,389.7 L128.0,389.7 L129.0,389.7 L130.0,389.7 L131.0,389.7 L132.0,389.7 L133.0,389.7 L134.0,389.7 L135.0,389.7 L136.0,389.7 L137.0,389.7 L138.0,389.7 L139.0,389.7 L140.0,389.7 L141.0,389.7 L142.0,389.7 L143.0,389.7 L144.0,389.7 L145.0,389.7 L146.0,389.7 L147.0,389.7 L148.0,389.7 L149.0,389.7 L150.0,389.7 L151.0,389.7 L152.0,389.7 L153.0,389.7 L154.0,389.7 L155.0,389.7 L156.0,389.7 L157.0,389.7 L158.0,389.7 L159.0,389.7 L160.0,389.7 L161.0,389.7 L162.0,389.7 L163.0,389.7 L164.0,389.7 L165.0,389.7 L166.0,389.7 L167.0,388.7 L168.0,387.84 L169.0,387.02 L170.0,386.18 L171.0,385.49 L172.0,384.8 L173.0,384.11 L174.0,382.96 L175.0,381.99 L176.0,381.32 L177.0,380.19 L178.0,379.57 L179.0,378.46 L180.0,377.61 L181.0,376.67 L182.0,376.16 L183.0,375.05 L184.0,374.32 L185.0,373.58 L186.0,373.16 L187.0,372.46 L188.0,371.64 L189.0,371.35 L190.0,371.17 L191.0,370.65 L192.0,370.12 L193.0,369.91 L194.0,369.6 L195.0,369.31 L196.0,369.33 L197.0,369.04 L198.0,369.34 L199.0,368.96 L200.0,368.95 L201.0,368.96 L202.0,368.96 L203.0,369.03 L204.0,368.96 L205.0,369.07 L206.0,369.26 L207.0,369.23 L208.0,369.6 L209.0,369.92 L210.0,370.24 L211.0,370.26 L212.0,370.32 L213.0,370.41 L214.0,370.24 L215.0,370.52 L216.0,370.64 L217.0,370.92 L218.0,370.76 L219.0,371.02 L220.0,371.2 L221.0,371.46 L222.0,371.6 L223.0,371.62 L224.0,371.51 L225.0,371.93 L226.0,372.12 L227.0,372.06 L228.0,372.09 L229.0,372.28 L230.0,372.22 L231.0,372.49 L232.0,372.61 L233.0,372.36 L234.0,372.44 L235.0,372.48 L236.0,372.15 L237.0,372.48 L238.0,372.27 L239.0,372.01 L240.0,371.91 L241.0,371.94 L242.0,372.06 L243.0,372.14 L244.0,372.05 L245.0,372.45 L246.0,372.25 L247.0,372.4 L248.0,372.32 L249.0,372.84 L250.0,372.48 L251.0,372.94 L252.0,372.82 L253.0,372.9 L254.0,372.96 L255.0,372.88 L256.0,373.3 L257.0,373.45 L258.0,373.46 L259.0,373.45 L260.0,373.31 L261.0,373.7 L262.0,373.47 L263.0,373.82 L264.0,373.53 L265.0,373.74 L266.0,373.84 L267.0,373.49 L268.0,373.64 L269.0,373.37 L270.0,373.32 L271.0,373.37 L272.0,373.74 L273.0,373.68 L274.0,373.5 L275.0,373.29 L276.0,373.44 L277.0,373.43 L278.0,373.22 L279.0,373.28 L280.0,373.35 L281.0,373.12 L282.0,373.38 L283.0,373.68 L284.0,373.69 L285.0,373.98 L286.0,374.23 L287.0,374.24 L288.0,374.61 L289.0,374.68 L290.0,375.03 L291.0,375.12 L292.0,375.47 L293.0,375.34 L294.0,375.8 L295.0,375.69 L296.0,376.24 L297.0,376.2 L298.0,376.28 L299.0,376.4 L300.0,376.64 L301.0,376.81 L302.0,376.99 L303.0,377.13 L304.0,376.87 L305.0,376.99 L306.0,376.79 L307.0,376.67 L308.0,376.32 L309.0,376.21 L310.0,376.15 L311.0,376.19 L312.0,375.88 L313.0,375.8 L314.0,375.72 L315.0,375.92 L316.0,375.6 L317.0,375.43 L318.0,375.74 L319.0,375.79 L320.0,375.68 L321.0,375.58 L322.0,375.62 L323.0,375.37 L324.0,375.48 L325.0,375.18 L326.0,375.18 L327.0,375.31 L328.0,375.31 L329.0,375.22 L330.0,375.02 L331.0,375.31 L332.0,375.19 L333.0,375.01 L334.0,375.02 L335.0,375.03 L336.0,374.92 L337.0,374.8 L338.0,375.21 L339.0,375.25 L340.0,375.1 L341.0,375.21 L342.0,375.0 L343.0,375.2 L344.0,374.91 L345.0,375.18 L346.0,375.1 L347.0,375.28 L348.0,374.88 L349.0,375.24 L350.0,374.91 L351.0,375.21 L352.0,375.5 L353.0,375.11 L354.0,375.32 L355.0,375.44 L356.0,375.54 L357.0,375.5 L358.0,376.0 L359.0,376.05 L360.0,375.93 L361.0,376.0 L362.0,376.2 L363.0,376.0 L364.0,376.06 L365.0,376.56 L366.0,376.33 L367.0,376.49 L368.0,376.77 L369.0,376.85 L370.0,376.67 L371.0,376.6 L372.0,376.71 L373.0,377.08 L374.0,377.13 L375.0,376.85 L376.0,377.25 L377.0,377.09 L378.0,377.23 L379.0,377.16 L380.0,377.59 L381.0,377.73 L382.0,377.41 L383.0,377.71 L384.0,377.57 L385.0,377.99 L386.0,377.66 L387.0,377.76 L388.0,378.09 L389.0,377.85 L390.0,378.1 L391.0,378.04 L392.0,377.93 L393.0,377.6 L394.0,377.84 L395.0,377.92 L396.0,377.63 L397.0,377.41 L398.0,377.44 L399.0,377.44 L400.0,377.61 L401.0,377.25 L402.0,377.15 L403.0,377.08 L404.0,377.2 L405.0,377.17 L406.0,376.86 L407.0,376.91 L408.0,376.92 L409.0,376.68 L410.0,376.4 L411.0,376.34 L412.0,376.56 L413.0,376.33 L414.0,376.03 L415.0,376.11 L416.0,375.73 L417.0,376.07 L418.0,375.7 L419.0,375.64 L420.0,375.54 L421.0,375.19 L422.0,375.36 L423.0,375.1 L424.0,374.98 L425.0,375.15 L426.0,374.75 L427.0,374.81 L428.0,375.01 L429.0,374.71 L430.0,374.69 L431.0,374.78 L432.0,374.56 L433.0,374.88 L434.0,374.88 L435.0,374.37 L436.0,374.54 L437.0,374.65 L438.0,374.41 L439.0,374.63 L440.0,374.36 L441.0,374.14 L442.0,374.28 L443.0,374.26 L444.0,374.07 L445.0,374.16 L446.0,374.17 L447.0,373.98 L448.0,373.91 L449.0,374.03 L450.0,373.89 L451.0,373.69 L452.0,373.79 L453.0,373.28 L454.0,373.46 L455.0,373.03 L456.0,373.13 L457.0,372.83 L458.0,372.81 L459.0,372.86 L460.0,372.74 L461.0,372.73 L462.0,372.43 L463.0,372.53 L464.0,372.38 L465.0,372.54 L466.0,372.48 L467.0,372.23 L468.0,372.49 L469.0,372.53 L470.0,372.44 L471.0,372.72 L472.0,372.5 L473.0,372.62 L474.0,372.68 L475.0,373.05 L476.0,373.15 L477.0,373.28 L478.0,373.32 L479.0,373.72 L480.0,373.49 L481.0,374.1 L482.0,374.13 L483.0,374.32 L484.0,374.65 L485.0,374.57 L486.0,374.72 L487.0,375.01 L488.0,375.07 L489.0,375.41 L490.0,375.76 L491.0,375.82 L492.0,375.8 L493.0,376.07 L494.0,375.93 L495.0,376.41 L496.0,376.2 L497.0,376.35 L498.0,376.41 L499.0,376.79 L500.0,376.97 L501.0,376.84 L502.0,376.38 L503.0,376.46 L504.0,376.33 L505.0,376.16 L506.0,376.44 L507.0,375.87 L508.0,375.99 L509.0,376.06 L510.0,376.1 L511.0,375.61 L512.0,375.69 L513.0,375.77 L514.0,375.34 L515.0,375.37 L516.0,375.84 L517.0,375.6 L518.0,375.87 L519.0,375.96 L520.0,376.16 L521.0,376.15 L522.0,376.29 L523.0,376.93 L524.0,376.97 L525.0,377.12 L526.0,377.03 L527.0,377.21 L528.0,377.53 L529.0,377.54 L530.0,377.81 L531.0,378.22 L532.0,378.06 L533.0,378.16 L534.0,378.61 L535.0,378.55 L536.0,378.39 L537.0,378.69 L538.0,378.8 L539.0,378.35 L540.0,378.34 L541.0,378.36 L542.0,378.29 L543.0,378.0 L544.0,377.99 L545.0,377.65 L546.0,377.48 L547.0,377.57 L548.0,377.21 L549.0,377.27 L550.0,376.86 L551.0,376.99 L552.0,376.98 L553.0,377.22 L554.0,377.1 L555.0,377.19 L556.0,377.26 L557.0,377.45 L558.0,377.62 L559.0,378.12 L560.0,378.82 L561.0,379.09 L562.0,379.73 L563.0,379.95 L564.0,380.59 L565.0,380.99 L566.0,381.8 L567.0,382.13 L568.0,382.59 L569.0,382.96 L570.0,383.56 L571.0,384.11 L572.0,384.69 L573.0,385.5 L574.0,385.96 L575.0,386.31 L576.0,386.93 L577.0,387.25 L578.0,388.07 L579.0,388.2 L580.0,388.83 L581.0,389.03 L582.0,389.14 L583.0,389.36 L584.0,389.58 L585.0,389.8 L586.0,389.8 L587.0,389.8 L588.0,389.8 L589.0,389.8 L590.0,389.8 L591.0,389.8 L592.0,389.8 L592,389.8" fill="none" stroke="#a89a48" stroke-width="0.5" opacity="0.8"/>
<rect x="89" y="389.5" width="78" height="0.8" fill="#333"/>
<rect x="89.5" y="412.1" width="20" height="4" fill="#000" rx="1.8"/><rect x="95" y="412.1" width="482.6" height="4" fill="#000"/>
<rect x="580.2" y="412.1" width="10" height="4" fill="#000"/>
<rect x="590.4" y="412.3" width="1.6" height="3.6" fill="#3070d0"/>
<path d="M155.8,408.5 L115.7,408.5 L109.7,414.1 L115.7,419.7 L155.8,419.7 Q157.8,419.7 157.8,417.7 L157.8,410.5 Q157.8,408.5 155.8,408.5 Z" fill="url(#gBl)" stroke="#2868b8" stroke-width="0.6" stroke-linejoin="round"/>
<text x="137.9" y="417.4" font-size="8.8" fill="#081c50" text-anchor="middle"  textLength="34.2" lengthAdjust="spacingAndGlyphs">f1 ori r...</text>
<path d="M169.5,408.5 L174.6,408.5 L179.6,414.1 L174.6,419.7 L169.5,419.7 Q166,419.7 166,416.2 L166,412.0 Q166,408.5 169.5,408.5 Z" fill="url(#gOr)" stroke="#b06808" stroke-width="0.6" stroke-linejoin="round"/>
<path d="M187.0,408.5 L230.5,408.5 L235,414.1 L230.5,419.7 L187.0,419.7 Q185.5,419.7 185.5,418.2 L185.5,410.0 Q185.5,408.5 187.0,408.5 Z" fill="url(#gTe)" stroke="#108888" stroke-width="0.6" stroke-linejoin="round"/>
<text x="209.7" y="417.3" font-size="8.8" fill="#0a4848" text-anchor="middle"  textLength="39.5" lengthAdjust="spacingAndGlyphs">hGH pol...</text>
<path d="M353.0,408.5 L252,408.5 L246,414.1 L252,419.7 L353.0,419.7 Q354.5,419.7 354.5,418.2 L354.5,410.0 Q354.5,408.5 353.0,408.5 Z" fill="url(#gYe)" stroke="#a0a010" stroke-width="0.6" stroke-linejoin="round"/>
<text x="304.6" y="417.3" font-size="8.8" fill="#3a3a00" text-anchor="middle"  textLength="96.8" lengthAdjust="spacingAndGlyphs">site-specific recombin...</text>
<path d="M436.5,408.5 L367.2,408.5 L361.2,414.1 L367.2,419.7 L436.5,419.7 Q438,419.7 438,418.2 L438,410.0 Q438,408.5 436.5,408.5 Z" fill="url(#gYe)" stroke="#a0a010" stroke-width="0.6" stroke-linejoin="round"/>
<text x="403.7" y="417.3" font-size="8.8" fill="#3a3a00" text-anchor="middle"  textLength="65" lengthAdjust="spacingAndGlyphs">enhanced GFP...</text>
<path d="M525.7,408.5 L512.5,408.5 L507,414.1 L512.5,419.7 L525.7,419.7 Q527.2,419.7 527.2,418.2 L527.2,410.0 Q527.2,408.5 525.7,408.5 Z" fill="url(#gGr)" stroke="#5c9010" stroke-width="0.6" stroke-linejoin="round"/>
<text x="519.7" y="417.3" font-size="8.8" fill="#1c4800" text-anchor="middle"  textLength="10.5" lengthAdjust="spacingAndGlyphs">C..</text>
<path d="M529.1,408.5 L554.1,408.5 L559.6,414.1 L554.1,419.7 L529.1,419.7 Q527.6,419.7 527.6,418.2 L527.6,410.0 Q527.6,408.5 529.1,408.5 Z" fill="url(#gOy)" stroke="#b07808" stroke-width="0.6" stroke-linejoin="round"/>
<text x="542" y="417.3" font-size="8.8" fill="#402800" text-anchor="middle"  textLength="20" lengthAdjust="spacingAndGlyphs">CM...</text>
<path d="M168.5,422.6 L174.6,422.6 L179.6,427.6 L174.6,432.6 L168.5,432.6 Q166,432.6 166,430.1 L166,425.1 Q166,422.6 168.5,422.6 Z" fill="url(#gGy)" stroke="#707070" stroke-width="0.6" stroke-linejoin="round"/>
<text x="171" y="430.4" font-size="8" fill="#333" text-anchor="middle" >I</text>
<path d="M571.3,422.6 L577.6,422.6 L582.6,427.6 L577.6,432.6 L571.3,432.6 Q568.8,432.6 568.8,430.1 L568.8,425.1 Q568.8,422.6 571.3,422.6 Z" fill="url(#gGy)" stroke="#707070" stroke-width="0.6" stroke-linejoin="round"/>
<path d="M16.6,412.4 Q16.6,411 15.3,411 H14.2 V416.6 H15.3 Q16.6,416.6 16.6,415.2" fill="#ececec" stroke="#606060" stroke-width="0.9"/>
<path d="M16.9,414 L19.6,411.9 V412.9 H22 V415.1 H19.6 V416.1 Z" fill="#2c66d0" stroke="#2c66d0" stroke-width="0.5" stroke-linejoin="round"/>
<text x="26.8" y="417.1" font-size="9.8" fill="#333" text-anchor="start"  textLength="25.5" lengthAdjust="spacingAndGlyphs">68544</text>
<rect x="10" y="490" width="582.8" height="55.5" fill="#fefdf8"/>
<rect x="15.5" y="490.1" width="577.3" height="19.9" fill="#fbf1c2"/>
<path d="M118.8,495.6 H515.2 V492.2 L522,497.8 L515.2,503.6 V500.2 H118.8 Z" fill="#4a68b8"/>
<rect x="70.2" y="510" width="0.7" height="18" fill="#666"/>
<rect x="109.2" y="510" width="0.7" height="18" fill="#666"/>
<rect x="328.2" y="510" width="0.7" height="18" fill="#666"/>
<rect x="533.7" y="510" width="0.7" height="18" fill="#666"/>
<rect x="575.5" y="510" width="0.7" height="18" fill="#666"/>
<circle cx="18" cy="533.6" r="2.7" fill="#5a5658"/>
<circle cx="30.5" cy="533.6" r="2.7" fill="#5a5658"/>
<circle cx="43" cy="533.6" r="2.7" fill="#5a5658"/>
<rect x="58.8" y="531.4" width="533" height="5" fill="#606060"/>
<rect x="591.4" y="528.6" width="1.4" height="12.4" fill="#505050"/>
<rect x="63" y="527.6" width="15.6" height="13.6" fill="#f08cc4" stroke="#a04884" stroke-width="0.7"/>
<path d="M75.6,528 V541" stroke="#f8b8dc" stroke-width="1.6" stroke-dasharray="1,1"/>
<rect x="81.4" y="527.6" width="56.2" height="13.6" fill="#b650a6" stroke="#7c2c74" stroke-width="0.8"/>
<path d="M141.1,527.2 Q140.1,534 141.1,541 L144.2,541 Q145.1,534 144.2,527.2 Z" fill="#2c82a6" stroke="#1c5a74" stroke-width="0.5"/>
<rect x="142.89999999999998" y="510" width="0.8" height="33.8" fill="#48525a"/>
<path d="M151.0,527.2 Q150.0,534 151.0,541 L154.1,541 Q155.0,534 154.1,527.2 Z" fill="#2c82a6" stroke="#1c5a74" stroke-width="0.5"/>
<rect x="152.79999999999998" y="510" width="0.8" height="33.8" fill="#48525a"/>
<path d="M417.2,523.8 Q422.0,533.5 417.2,542.6 Q412.4,533.5 417.2,523.8 Z" fill="#2c8cb0" stroke="#1c5a74" stroke-width="0.6"/>
<rect x="416.84999999999997" y="510" width="0.7" height="14.5" fill="#4a5258"/>
<path d="M427.4,523.8 Q432.2,533.5 427.4,542.6 Q422.59999999999997,533.5 427.4,523.8 Z" fill="#2c8cb0" stroke="#1c5a74" stroke-width="0.6"/>
<rect x="427.04999999999995" y="510" width="0.7" height="14.5" fill="#4a5258"/>
<path d="M156.4,533.8 L173.8,523.8 V527.6 H240.8 V540.4 H173.8 V543.8 Z" fill="#e81c24" stroke="#981010" stroke-width="0.7" stroke-linejoin="round"/>
<text x="202.5" y="537.7" font-size="10.4" fill="#fff" text-anchor="middle"  textLength="41" lengthAdjust="spacingAndGlyphs">mCherry</text>
<path d="M246.4,533.8 L261.2,523.8 V528 H413.8 V540 H261.2 V543.8 Z" fill="#8c2868" stroke="#5c1444" stroke-width="0.7" stroke-linejoin="round"/>
<rect x="432.6" y="527.6" width="70.4" height="13.6" fill="#fff" stroke="#8a8a8a" stroke-width="0.8"/>
<text x="466.7" y="537.9" font-size="10.2" fill="#2a2a2a" text-anchor="middle"  textLength="27" lengthAdjust="spacingAndGlyphs">WPRE</text>
<rect x="505.4" y="527.6" width="57.4" height="13.6" fill="#a8b0b8" stroke="#707880" stroke-width="0.8" rx="1"/>
<rect x="566.6" y="527.6" width="17" height="13.6" fill="#a8b0b8" stroke="#707880" stroke-width="0.8" rx="1"/>
</svg>
</body></html>
